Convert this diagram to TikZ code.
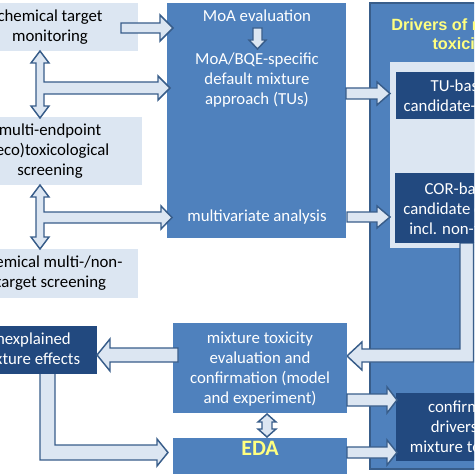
\documentclass[tikz,border=0pt]{standalone}
\usepackage{fontspec}
\setmainfont{Carlito}
\newfontfamily\titlefont{Liberation Sans}
\usetikzlibrary{fit}
\definecolor{lightfill}{HTML}{DCE6F2}
\definecolor{midblue}{HTML}{4F81BD}
\definecolor{darkblue}{HTML}{22497F}
\definecolor{edgeblue}{HTML}{385D8A}
\definecolor{titleyellow}{HTML}{FFFF80}
\tikzset{
  boxbase/.style={inner sep=0pt, outer sep=0pt, draw=none},
  lightbox/.style={boxbase, fill=lightfill},
  midbox/.style={boxbase, fill=midblue},
  darkbox/.style={boxbase, fill=darkblue},
  bigbox/.style={boxbase, fill=midblue, draw=edgeblue, line width=1.1pt},
  txt/.style={inner sep=0pt, outer sep=0pt, align=center, anchor=north,
    font=\fontsize{12.6}{15}\selectfont},
  blacktxt/.style={txt, text=black},
  whitetxt/.style={txt, text=white},
  titletxt/.style={inner sep=0pt, align=center, anchor=north, text=titleyellow,
    font=\titlefont\bfseries\fontsize{12.2}{14.5}\selectfont},
  edatxt/.style={inner sep=0pt, text=titleyellow, font=\bfseries\fontsize{16.5}{18}\selectfont},
  blockarrow/.style={fill=lightfill, draw=edgeblue, line width=1.1pt, line join=miter},
}
\begin{document}
\begin{tikzpicture}[x=0.75pt, y=-0.75pt]
\useasboundingbox (0,0) rectangle (474,474);
\clip (0,0) rectangle (474,474);

% ---------- right big box ----------
\node[bigbox, fit={(370,3) (560,469)}] (big) {};
\node[lightbox, fit={(390,62) (545,248)}] (inner) {};
\node[titletxt] (title) at (461,16.5) {\strut Drivers of mixture\\\strut toxicity};

% bent arrow COR -> mixture evaluation
\draw[blockarrow] (460,243) -- (473.5,243) -- (473.5,362) -- (362,362) -- (362,370)
  -- (347,356) -- (362,342) -- (362,349) -- (460,349) -- cycle;

\node[darkbox, fit={(396,72) (530,119)}] (tu) {};
\node[whitetxt] (tutxt) at (463,77.5) {\strut TU-based\\\strut candidate-drivers};
\node[darkbox, fit={(395,173) (530,243)}] (cor) {};
\node[whitetxt] (cortxt) at (462,180.5) {\strut COR-based\\\strut candidate drivers\\\strut incl. non-target};
\node[darkbox, fit={(396,393) (530,461)}] (conf) {};
\node[whitetxt] (conftxt) at (463,398.5) {\strut confirmed\\\strut drivers of\\\strut mixture toxicity};

% ---------- left column ----------
\node[lightbox, fit={(-40,3) (138,51)}] (chem) {};
\node[blacktxt] (chemtxt) at (50,7.5) {\strut chemical target\\\strut monitoring};
\node[lightbox, fit={(-44,117) (142,185)}] (tox) {};
\node[blacktxt] (toxtxt) at (50,121.5) {\strut multi-endpoint\\\strut (eco)toxicological\\\strut screening};
\node[lightbox, fit={(-36,249) (138,298)}] (nts) {};
\node[blacktxt] (ntstxt) at (51,253.5) {\strut chemical multi-/non-\\\strut target screening};

% ---------- middle column ----------
\node[midbox, fit={(167,3) (346,238)}] (moa) {};
\node[whitetxt] (moaeval) at (257,8) {\strut MoA evaluation};
\node[whitetxt] (moadef) at (257,50.5) {\strut MoA/BQE-specific\\\strut default mixture\\\strut approach (TUs)};
\node[whitetxt] (multi) at (257,207.5) {\strut multivariate analysis};
\node[midbox, fit={(173,323) (347,413)}] (mix) {};
\node[whitetxt] (mixtxt) at (260,329.5) {\strut mixture toxicity\\\strut evaluation and\\\strut confirmation (model\\\strut and experiment)};
\node[midbox, fit={(173,438) (347,478)}] (eda) {};
\node[edatxt] (edatxt) at (260,448) {EDA};

% bent arrow unexplained -> EDA
\draw[blockarrow] (40,370) -- (55,370) -- (55,445) -- (157,445) -- (157,439)
  -- (168,452.5) -- (157,466) -- (157,460) -- (40,460) -- cycle;
\node[darkbox, fit={(-40,326) (97,374)}] (unexp) {};
\node[whitetxt] (unexptxt) at (29,330.5) {\strut unexplained\\\strut mixture effects};

% ---------- block arrows ----------
% chemical target monitoring -> MoA
\draw[blockarrow] (121,23) -- (160,23) -- (160,15) -- (173,28) -- (160,41) -- (160,33) -- (121,33) -- cycle;
% T arrow 1
\draw[blockarrow] (40,51) -- (49,63) -- (44,63) -- (44,82) -- (158,82) -- (158,76) -- (170,88)
  -- (158,100) -- (158,94) -- (44,94) -- (44,106) -- (49,106) -- (40,118) -- (31,106)
  -- (36,106) -- (36,63) -- (31,63) -- cycle;
% T arrow 2
\draw[blockarrow] (40,185) -- (49,197) -- (44,197) -- (44,212) -- (161,212) -- (161,206) -- (172,217.5)
  -- (161,229) -- (161,223) -- (44,223) -- (44,237) -- (49,237) -- (40,249) -- (31,237)
  -- (36,237) -- (36,197) -- (31,197) -- cycle;
% MoA evaluation down arrow
\draw[blockarrow] (253,28) -- (262,28) -- (262,40) -- (266,40) -- (257.5,49) -- (249,40) -- (253,40) -- cycle;
% MoA -> TU
\draw[blockarrow] (346,88) -- (377,88) -- (377,82) -- (390,93.5) -- (377,105) -- (377,99) -- (346,99) -- cycle;
% multivariate -> COR
\draw[blockarrow] (347,212) -- (377,212) -- (377,206) -- (390,217) -- (377,228) -- (377,222) -- (347,222) -- cycle;
% mixture -> unexplained
\draw[blockarrow] (178,348) -- (110,348) -- (110,339) -- (97,355) -- (110,371) -- (110,362) -- (178,362) -- cycle;
% mixture -> confirmed
\draw[blockarrow] (347,394) -- (387,394) -- (387,387) -- (397,400) -- (387,413) -- (387,406) -- (347,406) -- cycle;
% EDA -> confirmed
\draw[blockarrow] (347,447) -- (387,447) -- (387,440) -- (397,452.5) -- (387,465) -- (387,458) -- (347,458) -- cycle;
% mixture <-> EDA
\draw[blockarrow] (267,414) -- (276,422) -- (272,422) -- (272,429) -- (276,429) -- (267,437)
  -- (258,429) -- (262,429) -- (262,422) -- (258,422) -- cycle;
\end{tikzpicture}
\end{document}
